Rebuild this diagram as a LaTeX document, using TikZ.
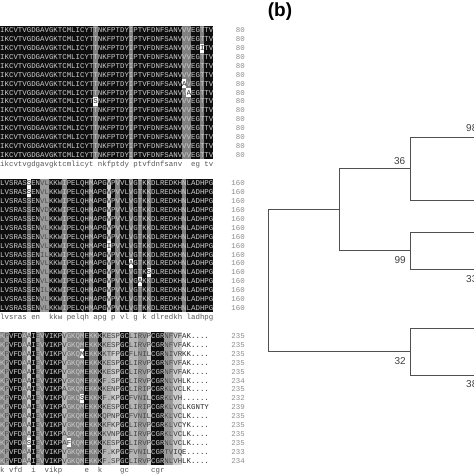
\documentclass[tikz,border=0pt]{standalone}
\usepackage{fontspec}
\setmainfont{Liberation Sans}
\newfontfamily\seqfont{Liberation Mono}
\definecolor{gA}{HTML}{5A5A5A}
\definecolor{gB}{HTML}{808080}
\definecolor{gC}{HTML}{9A9A9A}
\definecolor{gD}{HTML}{B4B4B4}
\definecolor{gE}{HTML}{CDCDCD}
\definecolor{blk}{HTML}{0E0E0E}
\definecolor{seqlight}{HTML}{CCCCCC}
\definecolor{seqdark}{HTML}{3A3A3A}
\definecolor{labgray}{HTML}{8C8C8C}
\definecolor{consgray}{HTML}{555555}
\definecolor{treeline}{HTML}{505050}
\definecolor{treelab}{HTML}{404040}
\tikzset{
  seq/.style={font={\seqfont\fontsize{7.4bp}{8bp}\selectfont}, inner sep=0pt, anchor=west, text height=5bp, text depth=0pt},
  seqlab/.style={seq, anchor=east, text=labgray},
  cons/.style={seq, text=consgray},
  branch/.style={draw=treeline, line width=0.9bp},
  support/.style={font={\fontsize{10bp}{11bp}\selectfont}, text=treelab, inner sep=0pt},
  blockscope/.style={x=4.44bp, y=-8.9bp}
}
\newcommand\gp{.}
\newcommand\colband[3]{\fill[#3] (#1,0) rectangle (#2+1,15);}
\newcommand\whitecell[2]{\fill[white] (#1,#2) rectangle (#1+1,#2+1);}
\begin{document}
\begin{tikzpicture}[x=1bp,y=-1bp]
\fill[white] (0,0) rectangle (474,474);
\useasboundingbox (0,0) rectangle (474,474);

% ---------------- block 1 ----------------
\begin{scope}[yshift=-25.85bp, blockscope]
  \fill[blk] (0,0) rectangle (48,15);
  \colband{21}{21}{gB}
  \colband{29}{29}{gB}
  \colband{41}{42}{gB}
  \colband{45}{45}{gB}
  \whitecell{45}{2}
  \whitecell{41}{6}
  \whitecell{42}{7}
  \whitecell{21}{8}
  \def\blockA{IKCVTVGDGAVGKTCMLICYTTNKFPTDYIPTVFDNFSANVVVEGTTV,
    IKCVTVGDGAVGKTCMLICYTTNKFPTDYIPTVFDNFSANVVVEGTTV,
    IKCVTVGDGAVGKTCMLICYTTNKFPTDYIPTVFDNFSANVVVEGITV,
    IKCVTVGDGAVGKTCMLICYTTNKFPTDYIPTVFDNFSANVVVEGTTV,
    IKCVTVGDGAVGKTCMLICYTTNKFPTDYIPTVFDNFSANVVVEGTTV,
    IKCVTVGDGAVGKTCMLICYTTNKFPTDYIPTVFDNFSANVVVEGTTV,
    IKCVTVGDGAVGKTCMLICYTTNKFPTDYIPTVFDNFSANVAVEGTTV,
    IKCVTVGDGAVGKTCMLICYTTNKFPTDYIPTVFDNFSANVVAEGTTV,
    IKCVTVGDGAVGKTCMLICYTSNKFPTDYIPTVFDNFSANVVVEGTTV,
    IKCVTVGDGAVGKTCMLICYTTNKFPTDYIPTVFDNFSANVVVEGTTV,
    IKCVTVGDGAVGKTCMLICYTTNKFPTDYIPTVFDNFSANVVVEGTTV,
    IKCVTVGDGAVGKTCMLICYTTNKFPTDYIPTVFDNFSANVVVEGTTV,
    IKCVTVGDGAVGKTCMLICYTTNKFPTDYIPTVFDNFSANVVVEGTTV,
    IKCVTVGDGAVGKTCMLICYTTNKFPTDYIPTVFDNFSANVVVEGTTV,
    IKCVTVGDGAVGKTCMLICYTTNKFPTDYIPTVFDNFSANVVVEGTTV}
  \foreach \s [count=\i from 0] in \blockA
    \node[seq, text=seqlight] (sA\i) at (0,\i+0.5) {\s};
  \begin{scope}
    \clip (45,2) rectangle (46,3) (41,6) rectangle (42,7)
          (42,7) rectangle (43,8) (21,8) rectangle (22,9);
    \foreach \s [count=\i from 0] in \blockA
      \node[seq, text=seqdark] (dA\i) at (0,\i+0.5) {\s};
  \end{scope}
  \foreach \i in {0,...,14}
    \node[seqlab] (lA\i) at (55.18,\i+0.5) {80};
  \node[cons] (cA) at (0,15.5) {ikcvtvgdgavgktcmlicyt~nkfptdy~ptvfdnfsanv~~eg~tv};
\end{scope}

% ---------------- block 2 ----------------
\begin{scope}[yshift=-178.85bp, blockscope]
  \fill[blk] (0,0) rectangle (48,15);
  \colband{6}{6}{gA}
  \colband{9}{10}{gC}
  \colband{14}{14}{gB}
  \colband{20}{20}{gB}
  \colband{24}{24}{gE}
  \colband{26}{26}{gB}
  \colband{29}{29}{gB}
  \colband{31}{31}{gB}
  \colband{33}{33}{gB}
  \colband{41}{41}{gB}
  \whitecell{6}{0}
  \whitecell{6}{1}
  \whitecell{24}{7}
  \whitecell{29}{9}
  \whitecell{33}{10}
  \whitecell{31}{11}
  \def\blockB{LVSRASSENVLKKWIPELQHMAPGVPVVLVGTKKDLREDKHNLADHPG,
    LVSRASSENVLKKWIPELQHMAPGVPVVLVGTKKDLREDKHNLADHPG,
    LVSRASSENVLKKWIPELQHMAPGVPVVLVGTKKDLREDKHNLADHPG,
    LVSRASSENVDKKWIPELQHMAPGVPVVLVGTKKDLREDKHNLADHPG,
    LVSRASSENVLKKWIPELQHMAPGVPVVLVGTKKDLREDKHNLADHPG,
    LVSRASSENVLKKWIPELQHMAPGVPVVLVGTKKDLREDKHNLADHPG,
    LVSRASSENVLKKWIPELQHMAPGVPVVLVGTKKDLREDKHNLADHPG,
    LVSRASSENVLKKWIPELQHMAPGIPVVLVGTKKDLREDKHNLADHPG,
    LVSRASSENILKKWIPELQHMAPGVPVVLVGTKKDLREDKHNLADHPG,
    LVSRASSENVLKKWIPELQHMAPGVPVVLAGTKKDLREDKHNLADHPG,
    LVSRASSENVLKKWIPELQHMAPGVPVVLVGTKSDLREDKHNLADHPG,
    LVSRASSENVLKKWIPELQHMAPGVPVVLVGAKKDLREDKHNLADHPG,
    LVSRASSENILKKWIPELQHMAPGVPVVLVGTKKDLREDKHNLADHPG,
    LVSRASSENVLKKWIPELQHMAPGVPVVLVGTKKDLREDKHNLADHPG,
    LVSRASSENVLKKWIPELQHMAPGVPVVLVGTKKDLREDKHNLADHPG}
  \foreach \s [count=\i from 0] in \blockB
    \node[seq, text=seqlight] (sB\i) at (0,\i+0.5) {\s};
  \begin{scope}
    \clip (9,0) rectangle (11,15) (24,0) rectangle (25,15)
          (6,0) rectangle (7,2) (29,9) rectangle (30,10)
          (33,10) rectangle (34,11) (31,11) rectangle (32,12);
    \foreach \s [count=\i from 0] in \blockB
      \node[seq, text=seqdark] (dB\i) at (0,\i+0.5) {\s};
  \end{scope}
  \foreach \i in {0,...,14}
    \node[seqlab] (lB\i) at (55.18,\i+0.5) {160};
  \node[cons] (cB) at (0,15.5) {lvsras~en~~kkw~pelqh~apg~p~vl~g~k~dlredkh~ladhpg};
\end{scope}

% ---------------- block 3 ----------------
\begin{scope}[yshift=-331.55bp, blockscope]
  \colband{0}{0}{gB}
  \colband{1}{1}{gC}
  \colband{2}{4}{blk}
  \colband{5}{5}{gB}
  \colband{6}{6}{gE}
  \colband{7}{7}{blk}
  \colband{8}{8}{gC}
  \colband{9}{9}{gB}
  \colband{10}{13}{blk}
  \colband{14}{14}{gD}
  \colband{15}{18}{gB}
  \colband{19}{19}{blk}
  \colband{20}{21}{gB}
  \colband{22}{22}{blk}
  \colband{23}{24}{gD}
  \colband{25}{26}{gE}
  \colband{27}{28}{blk}
  \colband{29}{30}{gD}
  \colband{31}{32}{gC}
  \colband{33}{33}{gE}
  \colband{34}{36}{blk}
  \colband{37}{38}{gC}
  \colband{39}{40}{gE}
  \whitecell{18}{2}
  \whitecell{18}{7}
  \whitecell{6}{12}
  \whitecell{15}{12}
  \def\blockC{KPVFDAAIEVVIKPVGKQMEKKKKESPGCLIRVPCGRNFVFAK\gp\gp\gp\gp,
    KPVFDAAIEVVIKPVGKQMEKKKKESPGCLIRVPCGRNFVFAK\gp\gp\gp\gp,
    KPVFDAAIEVVIKPVGKQMEKKKKTFPGCFLNILCGRNIVRKK\gp\gp\gp\gp,
    KPVFDAAIEVVIKPVGKQMEKKKKESPGCLIRVPCGRNFVFAK\gp\gp\gp\gp,
    KPVFDAAIEVVIKPVGKQMEKKKKESPGCLIRVPCGRNFVFAK\gp\gp\gp\gp,
    KPVFDAAIEVVIKPVGKQMEKKKF\gp{}SPGCLIRVPCGRNLVHLK\gp\gp\gp\gp,
    KPVFDAAIEVVIKPAGKQMEKKKKENPGCLIRIPCGRKLVCLK\gp\gp\gp\gp,
    KPVFDAAIEVVIKPVGKQSEKKKF\gp{}KPGCFVNILCGRKLVH\gp\gp\gp\gp\gp\gp,
    KPVFDAAIEVVIKPAGKQMEKKKKESPGCLIRIPCGRKLVCLKGNTY,
    KPVFDAAIEVVIKPVGKQMEKKKQPNPGCFVNILCGRKLVCLK\gp\gp\gp\gp,
    KPVFDAAIEVVIKPVGKQMEKKKKFKPGCLIRVPCGRKLVCYK\gp\gp\gp\gp,
    KPVFDAAIEVVIKPAGKQMEKKKKVNPGCLIRVPCGRKLVCLK\gp\gp\gp\gp,
    KPVFDASIEVVIKPAFKQMEKKKKESPGCLIRVPCGRNLVCLK\gp\gp\gp\gp,
    KPVFDAAIEVVIKPVGKQMEKKKF\gp{}KPGCFVNILCGRTVIQE\gp\gp\gp\gp\gp,
    KPVFDAAIEVVIKPVGKQMEKKKF\gp{}SPGCLIRVPCGRNLVHLK\gp\gp\gp\gp}
  \foreach \s [count=\i from 0] in \blockC
    \node[seq, text=seqlight] (sC\i) at (0,\i+0.5) {\s};
  \begin{scope}
    \clip (1,0) rectangle (2,15) (6,0) rectangle (7,15) (8,0) rectangle (9,15)
          (14,0) rectangle (15,15) (23,0) rectangle (27,15)
          (29,0) rectangle (34,15) (37,0) rectangle (48,15)
          (18,2) rectangle (19,3) (18,7) rectangle (19,8) (15,12) rectangle (16,13);
    \foreach \s [count=\i from 0] in \blockC
      \node[seq, text=seqdark] (dC\i) at (0,\i+0.5) {\s};
  \end{scope}
  \foreach \n [count=\i from 0] in {235,235,235,235,235,234,235,232,239,235,235,235,235,233,234}
    \node[seqlab] (lC\i) at (55.18,\i+0.5) {\n};
  \node[cons] (cC) at (0,15.5) {k~vfd~~i~~vikp~~~~~e~~k~~~~gc~~~~~cgr};
\end{scope}

% ---------------- tree ----------------
\node[font={\bfseries\fontsize{19bp}{21bp}\selectfont}, inner sep=0pt] (panelb) at (280,11.5) {(b)};
\begin{scope}
  \clip (0,0) rectangle (474,474);
  \coordinate (root) at (268,280.5);
  \coordinate (nA) at (339,209.5);
  \coordinate (nB) at (410,168.5);
  \coordinate (nC) at (410,250.5);
  \coordinate (nD) at (410,351.5);
  \coordinate (lf1) at (482,137);
  \coordinate (lf2) at (482,200);
  \coordinate (lf3) at (482,232);
  \coordinate (lf4) at (482,269);
  \coordinate (lf5) at (482,328);
  \coordinate (lf6) at (482,375);
  \draw[branch] (nA) -| (root);
  \draw[branch] (nD) -| (root);
  \draw[branch] (nB) -| (nA);
  \draw[branch] (nC) -| (nA);
  \draw[branch] (lf1) -| (nB);
  \draw[branch] (lf2) -| (nB);
  \draw[branch] (lf3) -| (nC);
  \draw[branch] (lf4) -| (nC);
  \draw[branch] (lf5) -| (nD);
  \draw[branch] (lf6) -| (nD);
  \node[support, anchor=east] (s36) at (405.5,161) {36};
  \node[support, anchor=east] (s99) at (406,260) {99};
  \node[support, anchor=east] (s32) at (406,361) {32};
  \node[support, anchor=west] (s98) at (466,128.5) {98};
  \node[support, anchor=west] (s33) at (466,279) {33};
  \node[support, anchor=west] (s38) at (466,384) {38};
\end{scope}
\end{tikzpicture}
\end{document}
